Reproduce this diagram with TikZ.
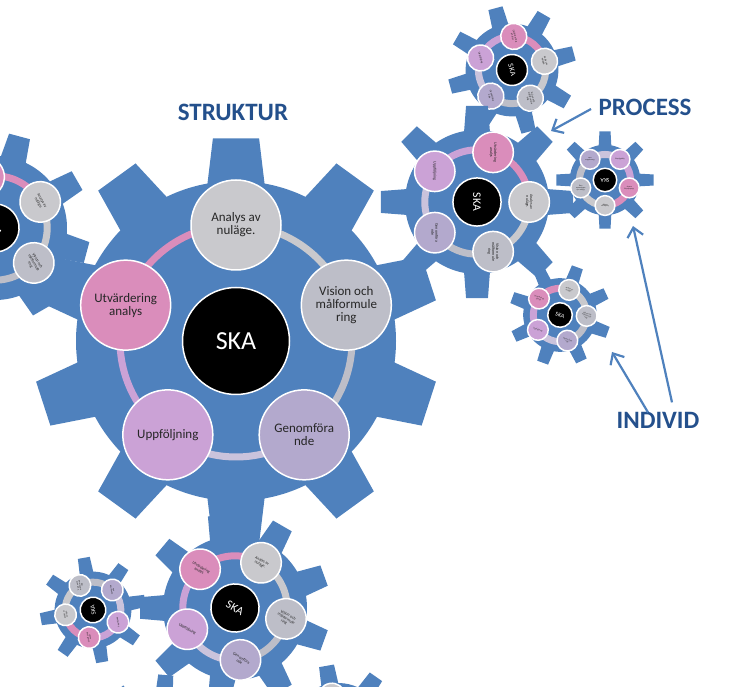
\documentclass[tikz,border=0pt]{standalone}
\usepackage{fontspec}
\setmainfont{Carlito}
\usetikzlibrary{arrows.meta}
\definecolor{gearblue}{HTML}{4F81BD}
\definecolor{titleblue}{HTML}{24508C}
\definecolor{cAna}{HTML}{C9C9CD}
\definecolor{cVis}{HTML}{BDBEC8}
\definecolor{cGen}{HTML}{B3A9CD}
\definecolor{cUpp}{HTML}{CBA2D6}
\definecolor{cUtv}{HTML}{DA8DBB}
\newcommand\stepfs{13}
\tikzset{
  stepnode/.style={circle,draw=white,line width=1.5,minimum size=90,inner sep=0,align=center,font=\fontsize{\stepfs}{\stepfs}\selectfont,text=black!85},
  skanode/.style={circle,fill=black,draw=white,line width=1.5,minimum size=107,inner sep=0,text=white,font=\fontsize{26}{28}\selectfont},
  ring/.style={line width=7},
  title/.style={text=titleblue,font=\bfseries\fontsize{25}{28}\selectfont},
  arr/.style={draw=gearblue,line width=2.2,-{Straight Barb[length=9,width=16]}}
}
% x y scale rot teeth name tiplength
\newcommand\skagear[7]{%
\begin{scope}[shift={(#1,#2)},scale=#3,rotate=#4,transform shape]
 \fill[gearblue] (0,0) circle (160);
 \pgfmathsetmacro\st{360/#5}
 \foreach \i in {1,...,#5}{\pgfmathsetmacro\a{90+(\i-1)*\st}
   \fill[gearblue] ({\a-10.5}:158) -- ({\a-6.5}:#7) -- ({\a+6.5}:#7) -- ({\a+10.5}:158) -- cycle;}
 \draw[ring,cAna] (18:116) arc (18:90:116);
 \draw[ring,cVis] (-54:116) arc (-54:18:116);
 \draw[ring,cGen!70!white] (-126:116) arc (-126:-54:116);
 \draw[ring,cUpp] (162:116) arc (162:234:116);
 \draw[ring,cUtv] (90:116) arc (90:162:116);
 \node[skanode] (#6ska) at (0,0) {SKA};
 \node[stepnode,fill=cAna] (#6ana) at (90:116) {Analys av\\nuläge.};
 \node[stepnode,fill=cVis] (#6vis) at (18:116) {Vision och\\målformule\\ring};
 \node[stepnode,fill=cGen] (#6gen) at (-54:116) {Genomföra\\nde};
 \node[stepnode,fill=cUpp] (#6upp) at (-126:116) {Uppföljning};
 \node[stepnode,fill=cUtv] (#6utv) at (162:116) {Utvärdering\\analys};
\end{scope}}
\begin{document}
\begin{tikzpicture}[x=1pt,y=1pt]
\useasboundingbox (0,0) rectangle (750,686);
\skagear{236}{345}{1}{0}{10}{m}{204}
\renewcommand\stepfs{9}
\skagear{-5}{458}{0.45}{-60}{8}{l}{212}
\skagear{512}{616}{0.29}{-75}{8}{t}{222}
\skagear{477}{484}{0.45}{-90}{8}{p}{215}
\skagear{605}{506}{0.22}{180}{8}{r}{222}
\skagear{560}{371}{0.23}{-20}{8}{s}{222}
\skagear{235}{78}{0.45}{-30}{9}{b}{212}
\skagear{93}{76}{0.24}{100}{8}{bl}{222}
\skagear{338}{-45}{0.3}{10}{8}{br}{222}
\skagear{160}{-55}{0.3}{40}{8}{bm}{222}
\node[title] (struktur) at (233,574) {STRUKTUR};
\node[title] (process) at (645,579) {PROCESS};
\node[title] (individ) at (658,266) {INDIVID};
\coordinate (pa) at (551,555);
\coordinate (ia) at (633,460);
\coordinate (ib) at (612,334);
\draw[arr] (process.west)+(-4,-2) -- (pa);
\draw[arr] (individ.north)+(14,6) -- (ia);
\draw[arr] (individ.north)+(-10,-4) -- (ib);
\end{tikzpicture}
\end{document}
